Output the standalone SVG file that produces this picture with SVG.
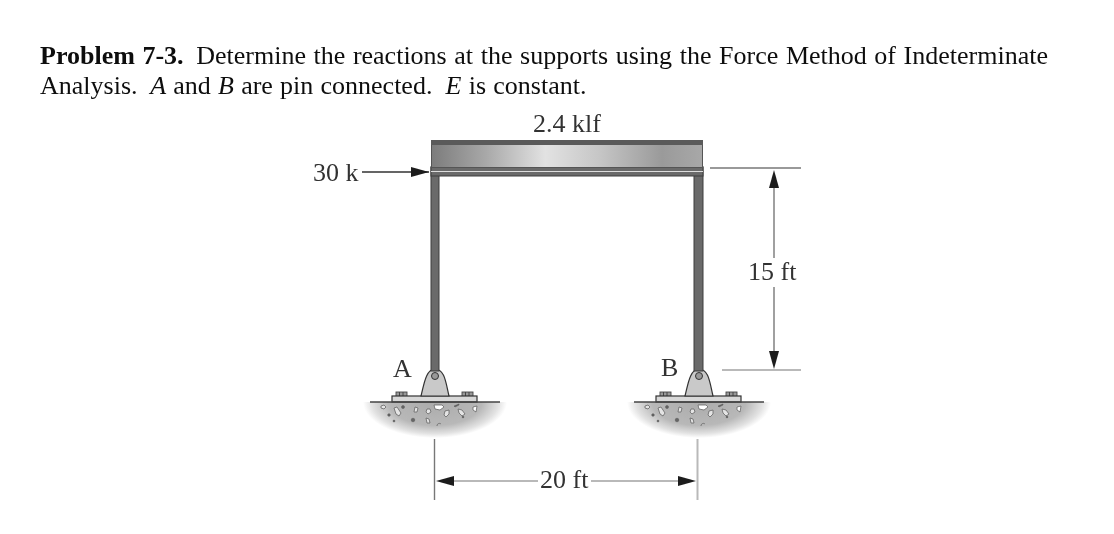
<svg xmlns="http://www.w3.org/2000/svg" width="1114" height="534" viewBox="0 0 1114 534">
<style>
text{font-family:"Liberation Serif","Times New Roman",serif;fill:#222;filter:url(#soft)}
.p{font-size:26px;fill:#111}
.l{font-size:26px;fill:#333}
.col{fill:#6b6b6b;stroke:#3c3c3c;stroke-width:1}
.dim{stroke:#777;stroke-width:1.4;fill:none}
.ext{stroke:#b9b9b9;stroke-width:2;fill:none}
.g{stroke:#444;stroke-width:1.5;fill:none}
.rock{fill:#e4e4e4;stroke:#666;stroke-width:.8}
.dark{fill:#666;stroke:#555;stroke-width:.5}
.plate{fill:#d8d8d8;stroke:#333;stroke-width:1.2}
.lug{fill:#c9c9c9;stroke:#333;stroke-width:1.2}
.bolt{fill:#999;stroke:#444;stroke-width:.9}
</style>
<defs>
<filter id="soft" x="-5%" y="-20%" width="110%" height="140%"><feGaussianBlur stdDeviation="0.35"/></filter>
<filter id="soft2" x="-5%" y="-5%" width="110%" height="110%"><feGaussianBlur stdDeviation="0.5"/></filter>
<linearGradient id="load" x1="0" x2="1" y1="0" y2="0">
<stop offset="0" stop-color="#7c7c7c"/><stop offset=".2" stop-color="#a8a8a8"/><stop offset=".42" stop-color="#e2e2e2"/><stop offset=".62" stop-color="#c6c6c6"/><stop offset=".85" stop-color="#9a9a9a"/><stop offset="1" stop-color="#a8a8a8"/>
</linearGradient>
<radialGradient id="soil" gradientUnits="userSpaceOnUse" cx="0" cy="0" r="1" gradientTransform="translate(0 402) scale(72 36)">
<stop offset="0" stop-color="#ababab"/><stop offset=".65" stop-color="#b8b8b8"/><stop offset=".88" stop-color="#e2e2e2"/><stop offset="1" stop-color="#fff"/>
</radialGradient>
<marker id="ah" markerWidth="20" markerHeight="10" refX="18" refY="5" orient="auto-start-reverse" markerUnits="userSpaceOnUse">
<path d="M0 0L18 5L0 10z" fill="#1c1c1c"/>
</marker>
<g id="support">
<rect x="-72" y="402" width="144" height="37" fill="url(#soil)"/>
<rect class="bolt" x="-39" y="392" width="11" height="4.500"/><path d="M-35.500 392v4.500M-32 392v4.500" stroke="#444"/>
<rect class="bolt" x="27" y="392" width="11" height="4.500"/><path d="M30.500 392v4.500M34 392v4.500" stroke="#444"/>
<rect class="plate" x="-43" y="396" width="85" height="6"/>
<path class="g" d="M-65 402H65"/>
<path class="lug" d="M-14 396C-11 384-9 369 0 369C10 369 11 384 14 396Z"/>
<circle cx="0" cy="376" r="3.500" fill="#999" stroke="#333"/>
<g class="rock">
<path d="M-54 406l3-1 2 2-2 2-3-1z"/>
<path d="M-41 408l3-1 4 6-2 3-3-2z"/>
<path d="M-20 407l3 1-1 4-3 0z"/>
<path d="M-8 409l3 0 1 3-3 2-2-2z"/>
<path d="M-1 405l8 0 2 2-4 3-5-1z" fill="#fff"/>
<path d="M10 411l4-1 0 4-3 3-2-2z"/>
<path d="M23 409l4 1 3 4-3 2-3-3z"/>
<path d="M38 407l4-1-1 6-3-2z" fill="#fff"/>
<path d="M-9 418l3 1 1 4-3 0z"/>
<path d="M2 426c0-3 3-3 4-2" fill="none"/>
</g>
<g class="dark">
<circle cx="-32" cy="407" r="1.500"/><circle cx="-46" cy="415" r="1.300"/><circle cx="-41" cy="421" r="1"/><circle cx="-22" cy="420" r="1.800"/><path d="M19 406l5-2 0 1-4 2z"/><circle cx="28" cy="417" r=".9"/>
</g>
</g>
</defs>

<g id="problem-text">
<text class="p" x="40" y="64" word-spacing="1.100"><tspan font-weight="700">Problem 7-3.</tspan><tspan dx="5"> Determine the reactions at the supports using the Force Method of Indeterminate</tspan></text>
<text class="p" x="40" y="94" word-spacing="0.700">Analysis.<tspan dx="6" font-style="italic"> A</tspan> and <tspan font-style="italic">B</tspan> are pin connected.<tspan dx="6" font-style="italic"> E</tspan> is constant.</text>
</g>

<g filter="url(#soft2)">
<g id="support-a"><use href="#support" x="435"/></g>
<g id="support-b"><use href="#support" x="699"/></g>

<g id="frame">
<rect class="col" x="431" y="167" width="8" height="204"/>
<rect class="col" x="694" y="167" width="9" height="204"/>
<rect class="col" x="431" y="167" width="272" height="9"/>
<rect x="431.500" y="140.500" width="271" height="27" fill="url(#load)" stroke="#555"/>
<rect x="431" y="140" width="272" height="5" fill="#5a5a5a"/>
<path d="M431 171.500H703" stroke="#ddd" stroke-width="1"/>
</g>
</g>

<g id="labels">
<text class="l" x="533" y="132">2.4 klf</text>
<text class="l" x="313" y="181">30 k</text>
<text class="l" x="748" y="280">15 ft</text>
<text class="l" x="393" y="377">A</text>
<text class="l" x="661" y="376">B</text>
<text class="l" x="540" y="488">20 ft</text>
</g>

<g id="connectors" filter="url(#soft2)">
<path d="M362 172H429" stroke="#333" stroke-width="1.600" marker-end="url(#ah)"/>
<path class="dim" d="M710 168H801"/>
<path class="ext" d="M722 370H801"/>
<path class="dim" d="M774 258V175"/>
<path class="dim" d="M774 287V365"/>
<path d="M774 170l-5 18h10z" fill="#1c1c1c"/>
<path d="M774 369l-5-18h10z" fill="#1c1c1c"/>
<path class="dim" d="M434.500 439V500"/>
<path class="ext" d="M697.500 439V500"/>
<path class="ext" d="M440 481H538"/>
<path class="ext" d="M591 481H690"/>
<path d="M436 481l18-5v10z" fill="#1c1c1c"/>
<path d="M696 481l-18-5v10z" fill="#1c1c1c"/>
</g>
</svg>
